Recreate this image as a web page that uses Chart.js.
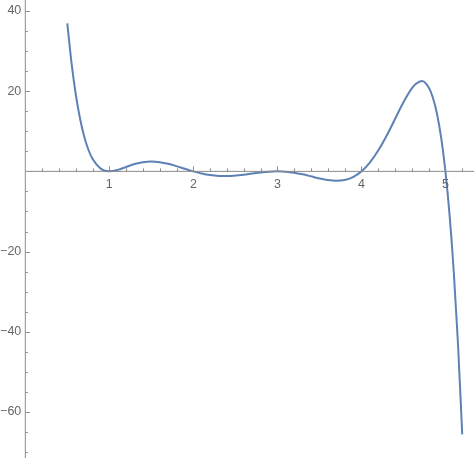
<!DOCTYPE html>
<html>
<head>
<meta charset="utf-8">
<script src="https://cdn.jsdelivr.net/npm/chart.js@4"></script>
<style>
    html, body { margin: 0; padding: 0; background: #fff; }
    #wrap { width: 474px; height: 458px; }
</style>
</head>
<body>
<div id="wrap"><canvas id="plot"></canvas></div>
<script>
    // values
    const xValues = [0.5, 0.55, 0.6, 0.65, 0.7, 0.75, 0.8, 0.9, 1.0, 1.1, 1.2, 1.3, 1.4, 1.5, 1.6, 1.7, 1.8, 1.9, 2.0,
        2.1, 2.2, 2.3, 2.4, 2.5, 2.6, 2.7, 2.8, 2.9, 3.0, 3.1, 3.2, 3.3, 3.4, 3.5, 3.6, 3.7, 3.8, 3.9, 4.0,
        4.1, 4.2, 4.3, 4.4, 4.5, 4.6, 4.65, 4.72, 4.8, 4.85, 4.9, 4.95, 5.0, 5.05, 5.1, 5.15, 5.2];
    const yValues = [36.91, 27.06, 19.30, 13.31, 8.78, 5.46, 3.12, 0.62, 0, 0.37, 1.10, 1.82, 2.30, 2.46, 2.30, 1.89, 1.30, 0.64, 0,
        -0.54, -0.93, -1.14, -1.17, -1.05, -0.83, -0.54, -0.27, -0.08, 0, -0.08, -0.33, -0.74, -1.24, -1.76, -2.18, -2.37, -2.17, -1.42, 0,
        2.20, 5.19, 8.89, 13.05, 17.23, 20.70, 21.87, 22.57, 20.96, 18.43, 14.33, 8.31, 0, -11.04, -25.28, -43.26, -65.6];

    const xTicks = [1, 2, 3, 4, 5];
    const yTicks = [-60, -40, -20, 20, 40];
    const xMinorStep = 0.2;
    const yMinorStep = 5;

    const axisColor = '#8c8c8c';
    const labelColor = '#666666';
    const lineColor = '#5e81b5';

    const points = xValues.map((x, i) => ({ x: x, y: yValues[i] }));

    // Mathematica-style axes through the origin, ticks on the inside
    const originAxes = {
        id: 'originAxes',
        afterDatasetsDraw(chart) {
            const ctx = chart.ctx;
            const xs = chart.scales.x;
            const ys = chart.scales.y;
            const area = chart.chartArea;
            const x0 = xs.getPixelForValue(0);
            const y0 = ys.getPixelForValue(0);

            ctx.save();
            ctx.strokeStyle = axisColor;
            ctx.lineWidth = 1;
            ctx.beginPath();
            ctx.moveTo(x0, y0);
            ctx.lineTo(area.right, y0);
            ctx.moveTo(x0, area.top);
            ctx.lineTo(x0, area.bottom);
            ctx.stroke();

            // x ticks
            ctx.beginPath();
            for (let v = xMinorStep; v <= xs.max + 1e-9; v += xMinorStep) {
                const r = Math.round(v * 10) / 10;
                const major = xTicks.includes(r);
                const px = Math.round(xs.getPixelForValue(r)) + 0.5;
                ctx.moveTo(px, y0);
                ctx.lineTo(px, y0 - (major ? 5 : 3));
            }
            // y ticks
            for (let v = Math.ceil(ys.min / yMinorStep) * yMinorStep; v <= ys.max; v += yMinorStep) {
                if (v === 0) continue;
                const major = yTicks.includes(v);
                const py = Math.round(ys.getPixelForValue(v)) + 0.5;
                ctx.moveTo(x0, py);
                ctx.lineTo(x0 + (major ? 4.5 : 2.5), py);
            }
            ctx.stroke();

            ctx.fillStyle = labelColor;
            ctx.font = '12.5px "Liberation Sans", Arial, sans-serif';
            ctx.textAlign = 'center';
            ctx.textBaseline = 'top';
            xTicks.forEach(v => {
                ctx.fillText(String(v), xs.getPixelForValue(v), y0 + 7);
            });
            ctx.textAlign = 'right';
            ctx.textBaseline = 'middle';
            yTicks.forEach(v => {
                const txt = v < 0 ? '\u2212' + Math.abs(v) : String(v);
                ctx.fillText(txt, x0 - 4, ys.getPixelForValue(v));
            });
            ctx.restore();
        }
    };

    new Chart(document.getElementById('plot').getContext('2d'), {
        type: 'scatter',
        data: {
            datasets: [{
                data: points,
                showLine: true,
                borderColor: lineColor,
                borderWidth: 2,
                pointRadius: 0,
                cubicInterpolationMode: 'monotone',
                fill: false
            }]
        },
        options: {
            responsive: true,
            maintainAspectRatio: false,
            animation: false,
            layout: { padding: { left: 25.3, right: 0, top: 0, bottom: 0 } },
            plugins: {
                legend: { display: false },
                tooltip: { enabled: false }
            },
            scales: {
                x: { type: 'linear', min: 0, max: 5.34, display: false },
                y: { type: 'linear', min: -71.5, max: 42.75, display: false }
            }
        },
        plugins: [originAxes]
    });
</script>
</body>
</html>
